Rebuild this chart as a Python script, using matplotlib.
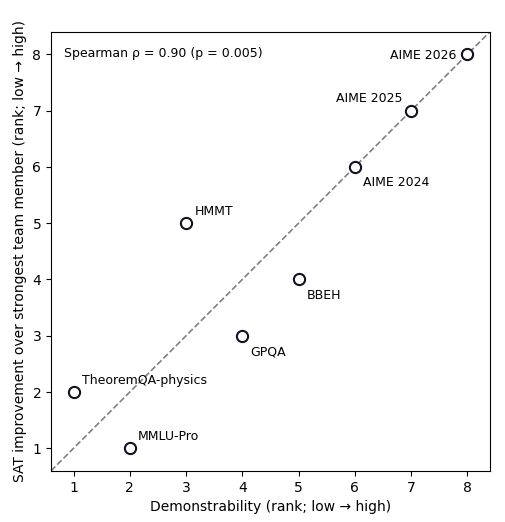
import matplotlib
matplotlib.use('Agg')
import matplotlib.pyplot as plt

names = ['TheoremQA-physics', 'MMLU-Pro', 'HMMT', 'GPQA', 'BBEH', 'AIME 2024', 'AIME 2025', 'AIME 2026']
demo_rank = [1, 2, 3, 4, 5, 6, 7, 8]
sat_rank = [2, 1, 5, 3, 4, 6, 7, 8]
# label offsets in points
offsets = [(6, 6), (6, 6), (6, 6), (6, -14), (6, -14), (6, -14), (-6, 6), (-8, -1)]

fig, ax = plt.subplots(figsize=(5.05, 5.22), dpi=100)
ax.plot([0.6, 8.4], [0.6, 8.4], ls='--', color='gray', lw=1.2, zorder=1)
ax.scatter(demo_rank, sat_rank, s=65, facecolors='white', edgecolors='#111122', linewidths=1.5, zorder=3)
for n, x, y, (dx, dy) in zip(names, demo_rank, sat_rank, offsets):
    ax.annotate(n, (x, y), xytext=(dx, dy), textcoords='offset points',
                ha='left' if dx > 0 else 'right', va='center' if n == 'AIME 2026' else 'baseline',
                fontsize=9)
ax.text(0.03, 0.965, 'Spearman ρ = 0.90 (p = 0.005)', transform=ax.transAxes, va='top', fontsize=9)
ax.set_xlim(0.6, 8.4)
ax.set_ylim(0.6, 8.4)
ax.set_xticks(range(1, 9))
ax.set_yticks(range(1, 9))
ax.set_xlabel('Demonstrability (rank; low → high)')
ax.set_ylabel('SAT improvement over strongest team member (rank; low → high)')
plt.subplots_adjust(left=0.101, right=0.97, top=0.939, bottom=0.098)
plt.savefig('out.png')
